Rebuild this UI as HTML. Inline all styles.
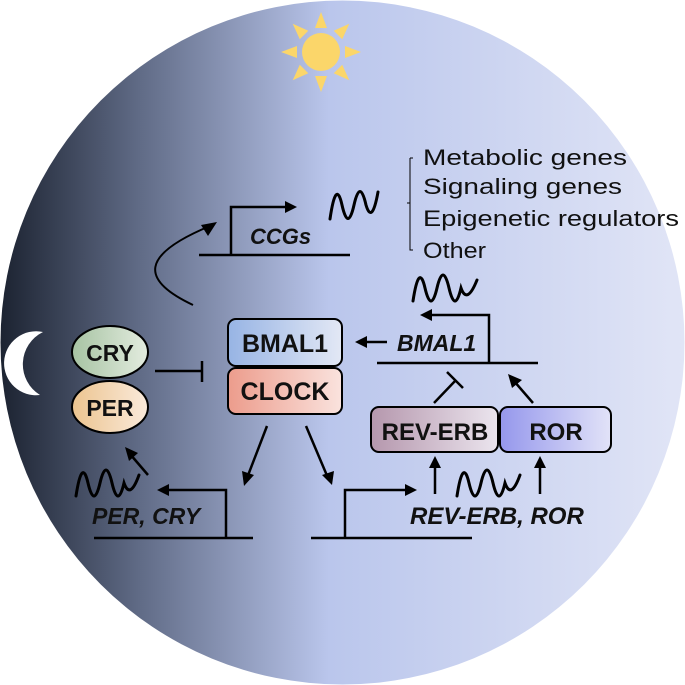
<!DOCTYPE html>
<html><head><meta charset="utf-8"><style>
html,body{margin:0;padding:0;background:#fff;}
svg{display:block;}
text{font-family:"Liberation Sans",sans-serif;}
</style></head><body>
<svg width="685" height="685" viewBox="0 0 685 685" xmlns="http://www.w3.org/2000/svg">
<defs>
<linearGradient id="bg" x1="0" x2="1" y1="0" y2="0">
<stop offset="0" stop-color="#1c2331"/>
<stop offset="0.2" stop-color="#5f6a85"/>
<stop offset="0.48" stop-color="#bac6ec"/>
<stop offset="1" stop-color="#e1e5f6"/>
</linearGradient>
<linearGradient id="gBm" x1="0" x2="1"><stop offset="0" stop-color="#97b4e4"/><stop offset="1" stop-color="#e3e8f5"/></linearGradient>
<linearGradient id="gCl" x1="0" x2="1"><stop offset="0" stop-color="#ec9c8c"/><stop offset="1" stop-color="#fae3de"/></linearGradient>
<linearGradient id="gCry" x1="0" x2="1"><stop offset="0" stop-color="#a7c3a3"/><stop offset="1" stop-color="#e3ecdf"/></linearGradient>
<linearGradient id="gPer" x1="0" x2="1"><stop offset="0" stop-color="#ecc48f"/><stop offset="1" stop-color="#faeadb"/></linearGradient>
<linearGradient id="gRev" x1="0" x2="1"><stop offset="0" stop-color="#b597ad"/><stop offset="1" stop-color="#ebe5ee"/></linearGradient>
<linearGradient id="gRor" x1="0" x2="1"><stop offset="0" stop-color="#9597ec"/><stop offset="1" stop-color="#e2e3f8"/></linearGradient>
</defs>
<circle cx="342.5" cy="342.5" r="342" fill="url(#bg)"/>
<!-- sun -->
<g fill="#fbd66a" transform="translate(321,52)">
<circle r="19"/>
<g id="ray"><path d="M-6,-24 L0,-40 L6,-24 z"/></g>
<use href="#ray" transform="rotate(45)"/><use href="#ray" transform="rotate(90)"/><use href="#ray" transform="rotate(135)"/>
<use href="#ray" transform="rotate(180)"/><use href="#ray" transform="rotate(225)"/><use href="#ray" transform="rotate(270)"/><use href="#ray" transform="rotate(315)"/>
</g>
<!-- moon -->
<path d="M43,332 A32,32 0 1 0 40,395 A36,36 0 0 1 43,332 z" fill="#fff"/>
<g stroke="#000" stroke-width="2.5" fill="none">
<path d="M199,255 H350 M231,255 V207 H292" />
<path d="M193,305 C140,280 140,255 210,226" stroke-width="2"/>
<path d="M410,158 H413 M410,158 V250 H413 M407,203 H410" stroke-width="1"/>
<path d="M377,363 H538 M489,363 V315 H425"/>
<path d="M387,342 H360"/>
<path d="M434,403 L456,380 M447,372 L463,388"/>
<path d="M533,403 L514,381"/>
<path d="M155,371 H202 M202,361 V382"/>
<path d="M267,426 L247,478"/>
<path d="M306,426 L328,478"/>
<path d="M94,538 H253 M226,538 V490 H163"/>
<path d="M148,475 L130,454"/>
<path d="M311,538 H472 M345,538 V490 H410"/>
<path d="M435,494 V463 M540,494 V463"/>
</g>
<g fill="#000">
<path d="M297,207 L285,201 L285,213 z"/>
<path d="M217,222 L201,225 L208,236 z"/>
<path d="M420,315 L432,309 L432,321 z"/>
<path d="M355,342 L367,336 L367,348 z"/>
<path d="M508,374 L512,388 L522,380 z"/>
<path d="M244,486 L242,471 L254,475 z"/>
<path d="M332,485 L322,475 L334,471 z"/>
<path d="M157,490 L169,484 L169,496 z"/>
<path d="M125,447 L129,461 L138,453 z"/>
<path d="M417,490 L405,484 L405,496 z"/>
<path d="M435,456 L429,468 L441,468 z M540,456 L534,468 L546,468 z"/>
</g>
<g stroke="#000" stroke-width="3" fill="none" stroke-linecap="round">
<path d="M330,219 Q336,178 342,205 T354,205 T366,205 Q372,225 378,192" />
<path d="M413,301 Q419,262 425,288 T437,288 T449,288 T461,288 Q467,305 477,280"/>
<path d="M76,496 Q82,457 88,483 T100,483 T112,483 T124,483 Q130,500 139,475"/>
<path d="M457,496 Q463,457 469,483 T481,483 T493,483 T505,483 Q511,500 520,475"/>
</g>
<ellipse cx="110" cy="352" rx="38" ry="26" fill="url(#gCry)" stroke="#000" stroke-width="2"/>
<ellipse cx="110" cy="407" rx="38" ry="26" fill="url(#gPer)" stroke="#000" stroke-width="2"/>
<rect x="228" y="319" width="114" height="47" rx="8" fill="url(#gBm)" stroke="#000" stroke-width="2"/>
<rect x="228" y="368" width="114" height="46" rx="8" fill="url(#gCl)" stroke="#000" stroke-width="2"/>
<rect x="371" y="407" width="127" height="45" rx="8" fill="url(#gRev)" stroke="#000" stroke-width="2"/>
<rect x="500" y="407" width="111" height="45" rx="8" fill="url(#gRor)" stroke="#000" stroke-width="2"/>
<g font-weight="bold" text-anchor="middle" fill="#111">
<text x="110" y="361" font-size="23">CRY</text>
<text x="110" y="416" font-size="23">PER</text>
<text x="285" y="352" font-size="25">BMAL1</text>
<text x="285" y="400" font-size="25">CLOCK</text>
<text x="435" y="440" font-size="24">REV-ERB</text>
<text x="556" y="440" font-size="24">ROR</text>
</g>
<g font-weight="bold" font-style="italic" fill="#111">
<text x="250" y="244" font-size="22">CCGs</text>
<text x="397" y="351" font-size="23">BMAL1</text>
<text x="92" y="524" font-size="23">PER, CRY</text>
<text x="410" y="524" font-size="24">REV-ERB, ROR</text>
</g>
<g font-size="22" fill="#111">
<text x="423" y="165" textLength="204" lengthAdjust="spacingAndGlyphs">Metabolic genes</text>
<text x="423" y="194" textLength="199" lengthAdjust="spacingAndGlyphs">Signaling genes</text>
<text x="423" y="226" textLength="256" lengthAdjust="spacingAndGlyphs">Epigenetic regulators</text>
<text x="423" y="258" textLength="63" lengthAdjust="spacingAndGlyphs">Other</text>
</g>
</svg>
</body></html>
